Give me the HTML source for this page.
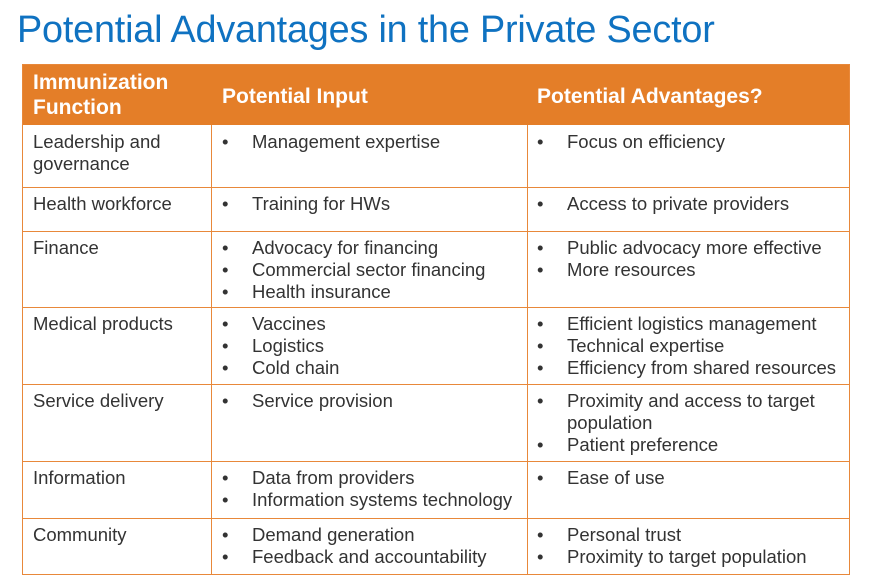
<!DOCTYPE html>
<html><head><meta charset="utf-8"><style>
body{margin:0;width:870px;height:582px;background:#fff;position:relative;overflow:hidden;font-family:"Liberation Sans",Arial,sans-serif}
h1{position:absolute;left:17px;top:9px;margin:0;font-weight:normal;font-size:37.8px;color:#0f72c1;letter-spacing:-0.2px}
.t{position:absolute;left:22px;top:64px;width:828px;height:511px;border:1px solid #e8883a;box-sizing:border-box}
.hd{position:absolute;left:22px;top:64px;width:828px;height:61px;background:#e47e28}
.h{position:absolute;color:#fff;font-weight:bold;font-size:21px;line-height:25px}
.hl{position:absolute;left:22px;width:828px;height:0;border-top:1px solid #e8883a}
.vl{position:absolute;top:125px;height:450px;width:0;border-left:1px solid #e8883a}
.c{position:absolute;font-size:18.5px;line-height:22px;color:#333}
ul{margin:0;padding:0;list-style:none}
li{position:relative;padding-left:30px}
li:before{content:"•";position:absolute;left:0}
</style></head><body>
<h1>Potential Advantages in the Private Sector</h1>
<div class="hd"></div>
<div class="h" style="left:33px;top:70px">Immunization<br>Function</div>
<div class="h" style="left:222px;top:84px">Potential Input</div>
<div class="h" style="left:537px;top:84px">Potential Advantages?</div>
<div class="t"></div>
<div class="hl" style="top:187px"></div><div class="hl" style="top:231px"></div><div class="hl" style="top:307px"></div><div class="hl" style="top:384px"></div><div class="hl" style="top:461px"></div><div class="hl" style="top:518px"></div>
<div class="vl" style="left:211px"></div><div class="vl" style="left:527px"></div>

<div class="c" style="left:33px;top:131px">Leadership and<br>governance</div>
<div class="c" style="left:222px;top:131px"><ul><li>Management expertise</li></ul></div>
<div class="c" style="left:537px;top:131px"><ul><li>Focus on efficiency</li></ul></div>

<div class="c" style="left:33px;top:193px">Health workforce</div>
<div class="c" style="left:222px;top:193px"><ul><li>Training for HWs</li></ul></div>
<div class="c" style="left:537px;top:193px"><ul><li>Access to private providers</li></ul></div>

<div class="c" style="left:33px;top:237px">Finance</div>
<div class="c" style="left:222px;top:237px"><ul><li>Advocacy for financing</li><li>Commercial sector financing</li><li>Health insurance</li></ul></div>
<div class="c" style="left:537px;top:237px"><ul><li>Public advocacy more effective</li><li>More resources</li></ul></div>

<div class="c" style="left:33px;top:313px">Medical products</div>
<div class="c" style="left:222px;top:313px"><ul><li>Vaccines</li><li>Logistics</li><li>Cold chain</li></ul></div>
<div class="c" style="left:537px;top:313px"><ul><li>Efficient logistics management</li><li>Technical expertise</li><li>Efficiency from shared resources</li></ul></div>

<div class="c" style="left:33px;top:390px">Service delivery</div>
<div class="c" style="left:222px;top:390px"><ul><li>Service provision</li></ul></div>
<div class="c" style="left:537px;top:390px"><ul><li>Proximity and access to target<br>population</li><li>Patient preference</li></ul></div>

<div class="c" style="left:33px;top:467px">Information</div>
<div class="c" style="left:222px;top:467px"><ul><li>Data from providers</li><li>Information systems technology</li></ul></div>
<div class="c" style="left:537px;top:467px"><ul><li>Ease of use</li></ul></div>

<div class="c" style="left:33px;top:524px">Community</div>
<div class="c" style="left:222px;top:524px"><ul><li>Demand generation</li><li>Feedback and accountability</li></ul></div>
<div class="c" style="left:537px;top:524px"><ul><li>Personal trust</li><li>Proximity to target population</li></ul></div>
</body></html>
